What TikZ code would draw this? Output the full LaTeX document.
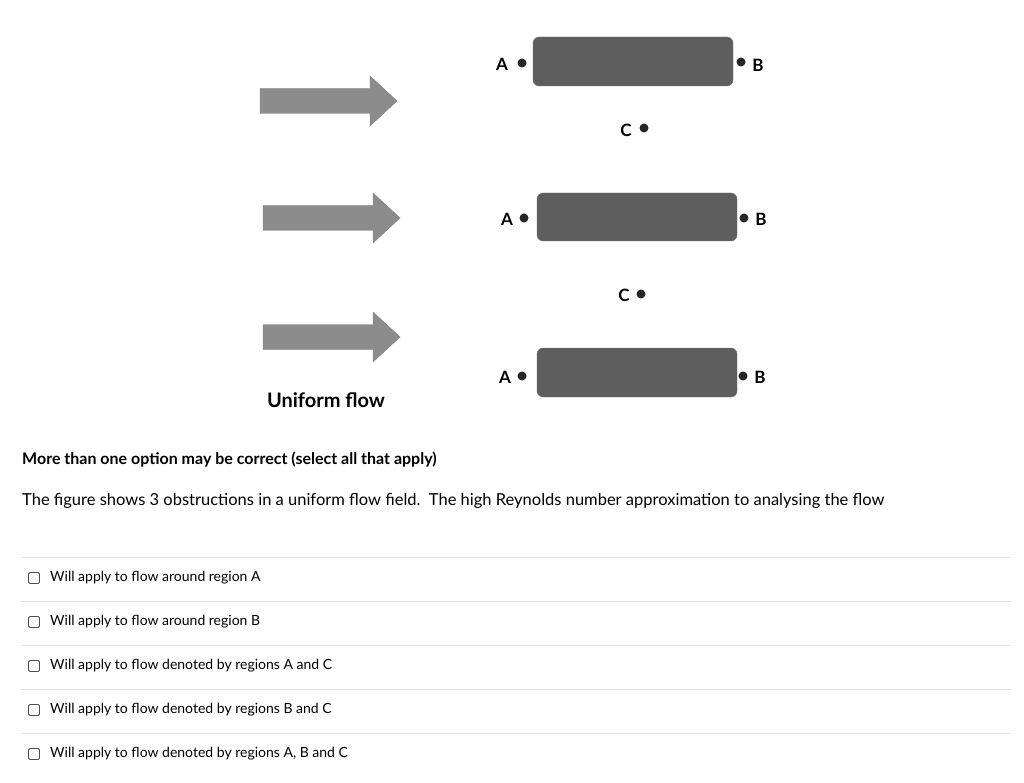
\documentclass[tikz,border=0pt]{standalone}
\usepackage{fontspec}
\setmainfont{Lato}
\begin{document}
\begin{tikzpicture}[x=1pt,y=-1pt,
  flowarrow/.style={fill=black!45,draw=black!50,line width=0.4pt},
  obst/.style={fill=black!63,draw=black!55,rounded corners=6pt},
  pt/.style={circle,fill=black!85,inner sep=0pt,minimum size=9pt},
  lab/.style={font=\fontsize{17}{20}\selectfont\bfseries,inner sep=0pt},
  sep/.style={draw=black!12,line width=0.8pt},
  cb/.style={draw=black!70,rounded corners=1.5pt,line width=0.9pt,minimum size=11pt,inner sep=0pt},
  opt/.style={anchor=west,font=\fontsize{14}{16}\selectfont,inner sep=0pt}]
\useasboundingbox (0,0) rectangle (1024,783);
% arrows
\foreach \n/\xs/\yc in {1/260/101,2/263/218,3/263/337}{
  \draw[flowarrow] (\xs,\yc-12.5) -- (\xs+110,\yc-12.5) -- (\xs+110,\yc-25) -- (\xs+137,\yc) -- (\xs+110,\yc+25) -- (\xs+110,\yc+12.5) -- (\xs,\yc+12.5) -- cycle;
}
% obstructions
\draw[obst] (533,37) rectangle (733,86);
\draw[obst] (537,193) rectangle (737,241);
\draw[obst] (537,348) rectangle (737,397);
% points
\node[pt] (a1) at (522,63) {}; \node[lab] (la1) at (502,64) {A};
\node[pt] (b1) at (741,62) {}; \node[lab] (lb1) at (758,65) {B};
\node[pt] (c1) at (644,128) {}; \node[lab] (lc1) at (626,130) {C};
\node[pt] (a2) at (524,218) {}; \node[lab] (la2) at (507,219) {A};
\node[pt] (b2) at (744,218) {}; \node[lab] (lb2) at (761,219) {B};
\node[pt] (c2) at (641,294) {}; \node[lab] (lc2) at (624,295) {C};
\node[pt] (a3) at (522,376) {}; \node[lab] (la3) at (505,377) {A};
\node[pt] (b3) at (743,376) {}; \node[lab] (lb3) at (760,377) {B};
\node[font=\fontsize{20}{24}\selectfont\bfseries,inner sep=0pt] (uf) at (326,400) {Uniform flow};
\node[anchor=west,inner sep=0pt,font=\fontsize{16}{19}\selectfont\bfseries] (q1) at (22,460) {More than one option may be correct (select all that apply)};
\node[anchor=west,inner sep=0pt,font=\fontsize{16.5}{19}\selectfont] (q2) at (22,501) {The figure shows 3 obstructions in a uniform flow field.\ \ The high Reynolds number approximation to analysing the flow};
\foreach \y in {557,601,645,689,733}{\draw[sep] (22,\y) -- (1010,\y);}
\foreach \i/\y/\t in {1/578/Will apply to flow around region A,2/622/Will apply to flow around region B,3/666/Will apply to flow denoted by regions A and C,4/710/Will apply to flow denoted by regions B and C,5/754/{Will apply to flow denoted by regions A, B and C}}{
  \node[cb] (cb\i) at (34,\y) {};
  \node[opt] (o\i) at (50,\y) {\t};
}
\end{tikzpicture}
\end{document}
